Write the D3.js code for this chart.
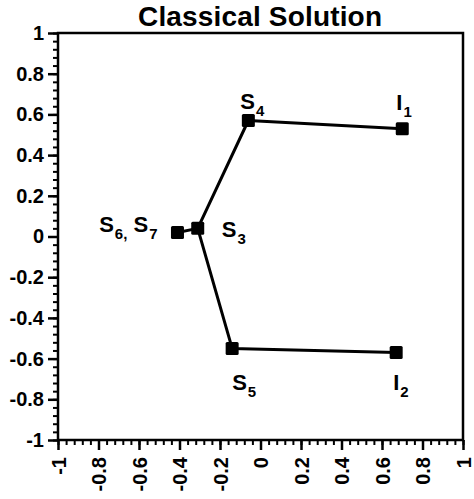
<!DOCTYPE html>
<html><head><meta charset="utf-8">
<script src="https://cdn.jsdelivr.net/npm/d3@7"></script>
<style>body{margin:0;background:#fff}</style>
</head><body>
<script>
// ---- data ----
const title = "Classical Solution";
const pointBase = ["I", "S", "S", "S", "I", "S"];
const pointSub  = ["1", "4", "3", "5", "2", "6"];
const xValues = [0.70, -0.06, -0.31, -0.14, 0.67, -0.41];
const yValues = [0.53, 0.57, 0.04, -0.55, -0.57, 0.02];
// path links between points (indices)
const chain = [0, 1, 2, 3, 4];
const branch = [2, 5];
const majorTicks = [-1, -0.8, -0.6, -0.4, -0.2, 0, 0.2, 0.4, 0.6, 0.8, 1];
const tickLabels = ["-1", "-0.8", "-0.6", "-0.4", "-0.2", "0", "0.2", "0.4", "0.6", "0.8", "1"];

// ---- layout ----
const W = 474, H = 499;
const mLeft = 58, mRight = 463, mTop = 33, mBottom = 440;
const svg = d3.select("body").append("svg").attr("width", W).attr("height", H)
  .style("font-family", "'Liberation Sans', Arial, sans-serif").style("font-weight", "bold");

const x = d3.scaleLinear().domain([-1, 1]).range([mLeft, mRight]);
const y = d3.scaleLinear().domain([-1, 1]).range([mBottom, mTop]);

const minorX = d3.range(-1, 1.0001, 0.04);
const minorY = d3.range(-1, 1.0001, 0.04);

// title
svg.append("text").attr("x", 260).attr("y", 26).attr("text-anchor", "middle")
  .attr("font-size", 28).attr("textLength", 244).text(title);

// minor ticks
svg.append("g").attr("transform", `translate(0,${mBottom})`)
  .call(d3.axisBottom(x).tickValues(minorX).tickSize(5).tickFormat(""))
  .call(g => g.select(".domain").remove())
  .selectAll("line").attr("stroke", "#000").attr("stroke-width", 2);
svg.append("g").attr("transform", `translate(${mLeft},0)`)
  .call(d3.axisLeft(y).tickValues(minorY).tickSize(5).tickFormat(""))
  .call(g => g.select(".domain").remove())
  .selectAll("line").attr("stroke", "#000").attr("stroke-width", 2);

// major axes
const xa = svg.append("g").attr("transform", `translate(0,${mBottom})`)
  .call(d3.axisBottom(x).tickValues(majorTicks).tickSize(10).tickPadding(6)
    .tickFormat((d, i) => tickLabels[i]));
xa.select(".domain").remove();
xa.selectAll("line").attr("stroke", "#000").attr("stroke-width", 2.5);
xa.selectAll("text").attr("font-size", 20).attr("font-weight", "bold").attr("fill", "#000")
  .attr("transform", "rotate(-90)").attr("text-anchor", "end")
  .attr("x", -17).attr("y", 0).attr("dy", "0.35em");

const ya = svg.append("g").attr("transform", `translate(${mLeft},0)`)
  .call(d3.axisLeft(y).tickValues(majorTicks).tickSize(10).tickPadding(4)
    .tickFormat((d, i) => tickLabels[i]));
ya.select(".domain").remove();
ya.selectAll("line").attr("stroke", "#000").attr("stroke-width", 2.5);
ya.selectAll("text").attr("font-size", 20).attr("font-weight", "bold").attr("fill", "#000");

// frame
svg.append("rect").attr("x", mLeft).attr("y", mTop).attr("width", mRight - mLeft).attr("height", mBottom - mTop)
  .attr("fill", "none").attr("stroke", "#000").attr("stroke-width", 2.5);

// lines
const line = d3.line().x(i => x(xValues[i])).y(i => y(yValues[i]));
[chain, branch].forEach(p => svg.append("path").attr("d", line(p))
  .attr("fill", "none").attr("stroke", "#000").attr("stroke-width", 3).attr("stroke-linejoin", "round"));

// markers
svg.selectAll("rect.m").data(xValues.map((_, i) => i)).enter().append("rect")
  .attr("class", "m")
  .attr("x", i => x(xValues[i]) - 6.5).attr("y", i => y(yValues[i]) - 6.5)
  .attr("width", 13).attr("height", 13).attr("rx", 1.5).attr("fill", "#000");

// labels (offsets in px from the point)
const labelOffsets = [[-6, -19, "start"], [-8, -12, "start"], [24, 9, "start"], [0, 42, "start"], [-3, 38, "start"], [-20, 0, "end"]];
xValues.forEach((_, i) => {
  const [dx, dy, anchor] = labelOffsets[i];
  const t = svg.append("text").attr("x", x(xValues[i]) + dx).attr("y", y(yValues[i]) + dy)
    .attr("text-anchor", anchor).attr("font-size", 22);
  t.append("tspan").text(pointBase[i]);
  t.append("tspan").attr("dx", 1).attr("dy", 7).attr("font-size", 15).text(pointSub[i]);
  if (i === 5) {
    t.append("tspan").attr("dy", 0).attr("font-size", 15).text(",");
    t.append("tspan").attr("dy", -7).text(" S");
    t.append("tspan").attr("dx", 1).attr("dy", 7).attr("font-size", 15).text("7");
  }
});
</script>
</body></html>
